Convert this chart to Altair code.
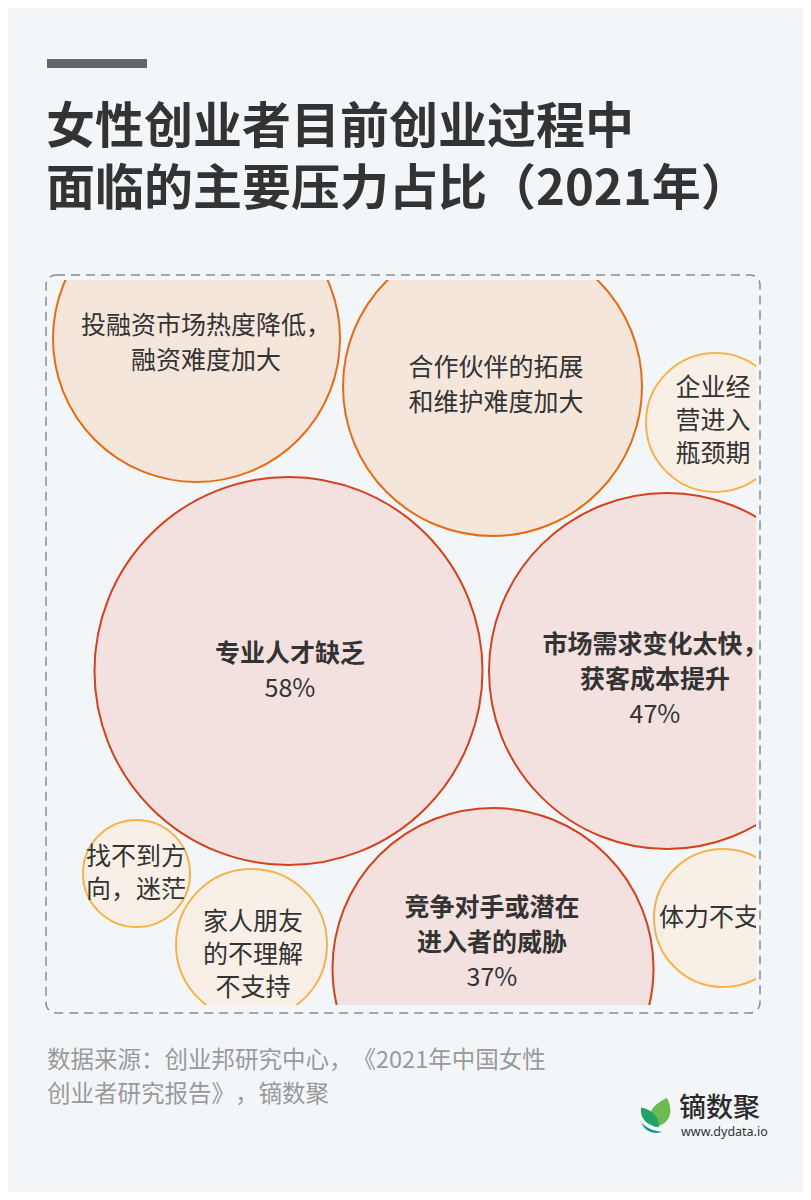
import altair as alt
import pandas as pd

# ---------------- data ----------------
labels = ["投融资市场热度降低，|融资难度加大", "合作伙伴的拓展|和维护难度加大", "企业经|营进入|瓶颈期",
          "专业人才缺乏", "市场需求变化太快，|获客成本提升", "找不到方|向，迷茫",
          "家人朋友|的不理解|不支持", "竞争对手或潜在|进入者的威胁", "体力不支"]
shares = [None, None, None, 58, 47, None, None, 37, None]
tiers = ["中", "中", "低", "高", "高", "低", "低", "高", "低"]
cx = [196.5, 492.5, 715.5, 288.5, 667, 136.5, 251.5, 493, 723]
cy = [338.5, 386.5, 422.5, 671, 671, 873.5, 944.5, 968.5, 918]
radius = [144.5, 150.5, 70.5, 195, 179, 54.5, 76.5, 161.5, 70]
label_x = [206, 496, 713, 290, 655, 136, 253, 492, 709]
label_y = [326, 368, 388, 654, 645, 857, 922, 908, 918]

title_text = "女性创业者目前创业过程中|面临的主要压力占比（2021年）"
source_text = "数据来源：创业邦研究中心，\u200b《2021年中国女性|创业者研究报告》\u200b，镝数聚"

FONT = "Noto Sans CJK SC"
LH = 35

df = pd.DataFrame({
    "label": labels, "share": shares, "tier": tiers,
    "cx": cx, "cy": cy, "r": radius, "lx": label_x, "ly": label_y,
})
df["size"] = (2 * (df["r"] - 1)) ** 2
df["nlines"] = df["label"].str.count(r"\|") + 1
df["py"] = df["ly"] + df["nlines"] * LH
df["pct"] = df["share"].apply(lambda v: "" if pd.isna(v) else f"{int(v)}%")

tier_dom = ["高", "中", "低"]
fill_scale = alt.Scale(domain=tier_dom, range=["#f2e1df", "#f5e6dc", "#f8f0e7"])
stroke_scale = alt.Scale(domain=tier_dom, range=["#d8401c", "#eb6a10", "#f8b245"])

xs = alt.Scale(domain=[50, 756], nice=False, zero=False)
ys = alt.Scale(domain=[280, 1005], nice=False, zero=False, reverse=True)

base = alt.Chart(df)

circles = base.mark_circle(clip=True, opacity=1, strokeWidth=2).encode(
    x=alt.X("cx:Q", scale=xs, axis=None),
    y=alt.Y("cy:Q", scale=ys, axis=None),
    size=alt.Size("size:Q", scale=None, legend=None),
    fill=alt.Fill("tier:N", scale=fill_scale, legend=None),
    stroke=alt.Stroke("tier:N", scale=stroke_scale, legend=None),
)

bold_labels = base.transform_filter(alt.datum.tier == "高").mark_text(
    clip=True, font=FONT, fontSize=25, fontWeight="bold", lineHeight=LH,
    lineBreak="|", color="#333333", align="center", baseline="middle",
).encode(
    x=alt.X("lx:Q", scale=xs, axis=None),
    y=alt.Y("ly:Q", scale=ys, axis=None),
    text="label:N",
)

mid_labels = base.transform_filter(alt.datum.tier == "中").mark_text(
    clip=True, font=FONT, fontSize=25, lineHeight=35,
    lineBreak="|", color="#333333", align="center", baseline="middle",
).encode(
    x=alt.X("lx:Q", scale=xs, axis=None),
    y=alt.Y("ly:Q", scale=ys, axis=None),
    text="label:N",
)

low_labels = base.transform_filter(alt.datum.tier == "低").mark_text(
    clip=True, font=FONT, fontSize=25, lineHeight=33,
    lineBreak="|", color="#333333", align="center", baseline="middle",
).encode(
    x=alt.X("lx:Q", scale=xs, axis=None),
    y=alt.Y("ly:Q", scale=ys, axis=None),
    text="label:N",
)

pct_labels = base.transform_filter(alt.datum.tier == "高").mark_text(
    clip=True, font=FONT, fontSize=25, color="#333333", align="center", baseline="middle",
).encode(
    x=alt.X("lx:Q", scale=xs, axis=None),
    y=alt.Y("py:Q", scale=ys, axis=None),
    text="pct:N",
)

one = alt.Data(values=[{"k": 0}])

# dashed frame
frame = alt.Chart(one).mark_rect(
    fillOpacity=0, stroke="#8c8c8c", strokeWidth=1.5, strokeDash=[9, 6], cornerRadius=10,
).encode(x=alt.value(-4), x2=alt.value(710), y=alt.value(-5), y2=alt.value(733))

# top bar
bar = alt.Chart(one).mark_rect(color="#666666").encode(
    x=alt.value(-3), x2=alt.value(97), y=alt.value(-221), y2=alt.value(-212))

title = alt.Chart(one).mark_text(
    text=title_text, lineBreak="|", lineHeight=62, font=FONT, fontSize=49,
    fontWeight="bold", color="#333333", align="left", baseline="middle",
).encode(x=alt.value(-4), y=alt.value(-152))

source = alt.Chart(one).mark_text(
    text=source_text, lineBreak="|", lineHeight=34, font=FONT, fontSize=23.5,
    color="#9a9a9a", align="left", baseline="middle",
).encode(x=alt.value(-3), y=alt.value(781))

logo_txt = alt.Chart(one).mark_text(
    text="镝数聚", font=FONT, fontSize=27, fontWeight=500, color="#2b2b2b",
    align="left", baseline="middle").encode(x=alt.value(629), y=alt.value(829))
logo_url = alt.Chart(one).mark_text(
    text="www.dydata.io", font="Noto Sans", fontSize=12.5, color="#333333",
    align="left", baseline="middle").encode(x=alt.value(631), y=alt.value(852))

leaf_light = "M -0.05 0.63 C 0.9 0.5 0.95 -0.3 0.63 -0.89 C 0.0 -0.6 -0.6 -0.1 -0.05 0.63 Z"
leaf_dark = "M 0.21 0.63 C 0.25 0.1 -0.2 -0.3 -0.72 -0.4 C -0.85 0.1 -0.4 0.6 0.21 0.63 Z"
leaf_teal = "M -0.72 0.4 C -0.5 0.95 0.0 1.0 0.4 0.9 C 0.0 0.85 -0.4 0.75 -0.72 0.4 Z"
leaves = [
    alt.Chart(one).mark_point(shape=p, filled=True, size=38 ** 2, opacity=1, fill=c, strokeWidth=0)
    .encode(x=alt.value(605), y=alt.value(835))
    for p, c in [(leaf_light, "#6cbb4e"), (leaf_dark, "#1fa36c"), (leaf_teal, "#17908f")]
]

chart = alt.layer(
    circles, bold_labels, mid_labels, low_labels, pct_labels, frame, bar, title,
    source, logo_txt, logo_url, *leaves,
).properties(
    width=706, height=725,
    autosize=alt.AutoSizeParams(type="none"),
    padding={"left": 42, "top": 272, "right": 47, "bottom": 187},
    background="#f3f6f9",
).configure_view(strokeWidth=0)

chart.save("out.html", embed_options={"renderer": "svg", "actions": False})
